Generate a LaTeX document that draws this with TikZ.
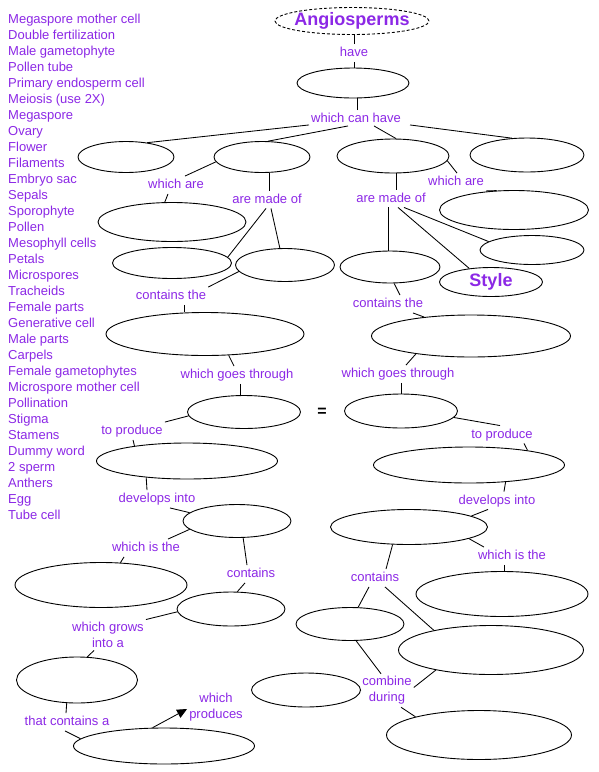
\documentclass[tikz,border=0pt]{standalone}
\usepackage{fontspec}
\setmainfont{Liberation Sans}
\usetikzlibrary{shapes.geometric,arrows.meta}
\definecolor{lbl}{RGB}{140,40,230}
\begin{document}
\begin{tikzpicture}[x=1pt,y=-1pt,
  ell/.style 2 args={draw, ellipse, line width=0.9pt, inner sep=0pt, minimum width=#1pt, minimum height=#2pt},
  lab/.style={text=lbl, font=\fontsize{13}{16}\selectfont, inner xsep=2pt, inner ysep=2.5pt, text height=10pt, text depth=2.5pt, yshift=-1pt},
  labm/.style={text=lbl, font=\fontsize{13}{16}\selectfont, inner xsep=2pt, inner ysep=2.5pt, align=center, yshift=-1pt},
  big/.style={text=lbl, font=\bfseries\fontsize{18}{20}\selectfont, inner sep=0pt},
  con/.style={line width=0.85pt},
  word/.style={text=lbl, font=\fontsize{13}{16}\selectfont, anchor=base west, inner sep=0pt}
]
\useasboundingbox[fill=white] (0,0) rectangle (598,772);

% word list
\foreach \w [count=\i from 0] in {Megaspore mother cell, Double fertilization, Male gametophyte, Pollen tube, Primary endosperm cell, Meiosis (use 2X), Megaspore, Ovary, Flower, Filaments, Embryo sac, Sepals, Sporophyte, Pollen, Mesophyll cells, Petals, Microspores, Tracheids, Female parts, Generative cell, Male parts, Carpels, Female gametophytes, Microspore mother cell, Pollination, Stigma, Stamens, Dummy word, 2 sperm, Anthers, Egg, Tube cell}
  \node[word] (w\i) at (8,23.5+16*\i) {\w};

% ellipses
\node[ell={154}{27}, dashed, dash pattern=on 3pt off 2pt, label={[big]center:Angiosperms}] (root) at (352,21) {};
\node[ell={112}{30}] (E1) at (353,83) {};
\node[ell={96}{31}] (E2a) at (126,157) {};
\node[ell={96}{31}] (E2b) at (262,157) {};
\node[ell={112}{34}] (E2c) at (393,156) {};
\node[ell={114}{34}] (E2d) at (527,155) {};
\node[ell={148}{39}] (E3a) at (172,222) {};
\node[ell={119}{31}] (E3b) at (172,263) {};
\node[ell={99}{33}] (E3c) at (285,265) {};
\node[ell={100}{32}] (E3d) at (390,267) {};
\node[ell={104}{29}] (E3e) at (532,250) {};
\node[ell={149}{39}] (E3f) at (514,210) {};
\node[ell={103}{29}, big] (Style) at (491,282) {Style};
\node[ell={198}{43}] (E4a) at (205,334) {};
\node[ell={199}{42}] (E4b) at (471,336) {};
\node[ell={113}{33}] (E5a) at (244,412) {};
\node[ell={113}{34}] (E5b) at (401,411) {};
\node[ell={181}{36}] (E6a) at (187,461) {};
\node[ell={191}{36}] (E6b) at (469,465) {};
\node[ell={108}{33}] (E7a) at (237,521) {};
\node[ell={157}{35}] (E7b) at (409,527) {};
\node[ell={172}{45}] (E8a) at (101,585) {};
\node[ell={172}{45}] (E8b) at (502,594) {};
\node[ell={108}{34}] (E9a) at (231,609) {};
\node[ell={121}{46}] (E10a) at (77,680) {};
\node[ell={181}{36}] (E11a) at (164,746) {};
\node[ell={108}{33}] (E12b) at (350,624) {};
\node[ell={185}{49}] (E13b) at (491,650) {};
\node[ell={109}{34}] (E14) at (306,690) {};
\node[ell={185}{49}] (E15b) at (479,735) {};

% labels
\node[lab] (have) at (354,52) {have};
\node[lab] (wch) at (356,118) {which can have};
\node[lab] (wareL) at (176,184) {which are};
\node[lab] (madeL) at (267,198.5) {are made of};
\node[lab] (madeR) at (391,197.5) {are made of};
\node[lab] (wareR) at (456,181) {which are};
\node[lab] (contL) at (171,295) {contains the};
\node[lab] (contR) at (388,303) {contains the};
\node[lab] (goesL) at (237,374) {which goes through};
\node[lab] (goesR) at (398,373) {which goes through};
\node[font=\bfseries\fontsize{16}{18}\selectfont, inner sep=1pt] (eq) at (322,412) {=};
\node[lab] (prodL) at (132,430) {to produce};
\node[lab] (prodR) at (502,433.5) {to produce};
\node[lab] (devL) at (157,498) {develops into};
\node[lab] (devR) at (497,499.5) {develops into};
\node[lab] (isL) at (146,547) {which is the};
\node[lab] (isR) at (512,555) {which is the};
\node[lab] (contsL) at (251,573) {contains};
\node[lab] (contsR) at (375,577) {contains};
\node[labm] (grows) at (108,634) {which grows\\into a};
\node[labm] (comb) at (387,689.5) {combine\\during};
\node[lab] (thatc) at (67,721) {that contains a};
\node[labm] (prodc) at (216,706) {which\\produces};

% connectors
\draw[con] (have.north) -- (have.north |- root.south);
\draw[con] (have.south) -- (have.south |- E1.north);
\draw[con] ([xshift=1pt]wch.north) -- ([xshift=1pt]wch.north |- E1.south);
\draw[con] ([yshift=3pt]wch.south west) -- (E2a.34);
\draw[con] ([xshift=-8pt,yshift=2pt]wch.south) -- (E2b.69);
\draw[con] ([xshift=18pt,yshift=2pt]wch.south) -- (E2c.80);
\draw[con] ([xshift=7pt,yshift=3pt]wch.south east) -- (E2d.132);

\draw[con] (E2b.186) -- ([xshift=9pt]wareL.north);
\draw[con] ([xshift=-8pt]wareL.south) -- (E3a.110);
\draw[con] ([xshift=2pt]madeL.north) -- ([xshift=2pt]madeL.north |- E2b.south);
\draw[con] ([xshift=-1pt]madeL.south) -- (E3b.6);
\draw[con] ([xshift=4pt]madeL.south) -- (E3c.107);
\draw[con] (E3c.188) -- (contL.north east);
\draw[con] ([xshift=13pt]contL.south) -- ([xshift=13pt]contL.south |- E4a.north);
\draw[con] (E4a.-42) -- ([xshift=-3pt]goesL.north);
\draw[con] ([xshift=3pt]goesL.south) -- ([xshift=3pt]goesL.south |- E5a.north);
\draw[con] (E5a.184) -- (prodL.north east);
\draw[con] ([xshift=1pt]prodL.south) -- (E6a.164);
\draw[con] (E6a.202) -- ([xshift=-10pt]devL.north);
\draw[con] ([xshift=13pt]devL.south) -- (E7a.170);
\draw[con] (E7a.190) -- ([xshift=22pt]isL.north);
\draw[con] ([xshift=-22pt]isL.south) -- (E8a.49);
\draw[con] (E7a.-70) -- ([xshift=-4pt]contsL.north);
\draw[con] ([xshift=-6pt]contsL.south) -- (E9a.70);
\draw[con] (E9a.183) -- (grows.north east);
\draw[con] ([xshift=-14pt]grows.south) -- (E10a.66);
\draw[con] (E10a.-114) -- ([xshift=-1pt]thatc.north);
\draw[con] ([xshift=-2pt]thatc.south) -- (E11a.175);
\draw[con, -{Triangle[length=10pt,width=9pt]}] (E11a.122) -- ([yshift=-2pt]prodc.west);

\draw[con] ([xshift=5pt]madeR.north) -- ([xshift=5pt]madeR.north |- E2c.south);
\draw[con] ([xshift=-3pt]madeR.south) -- ([xshift=-3pt]madeR.south |- E3d.north);
\draw[con] ([xshift=7pt]madeR.south) -- (Style.148);
\draw[con] ([xshift=13pt]madeR.south) -- (E3e.169);
\draw[con] (E2c.-5) -- ([xshift=1pt]wareR.north);
\draw[con] (wareR.south east) -- (E3f.132);
\draw[con] (E3d.-76) -- ([xshift=12pt]contR.north);
\draw[con] ([xshift=25pt]contR.south) -- (E4b.158);
\draw[con] (E4b.198) -- ([xshift=8pt]goesR.north);
\draw[con] ([xshift=3pt]goesR.south) -- ([xshift=3pt]goesR.south |- E5b.north);
\draw[con] (E5b.-7) -- ([xshift=-2pt]prodR.north);
\draw[con] ([xshift=22pt]prodR.south) -- (E6b.14);
\draw[con] (E6b.-25) -- ([xshift=7pt]devR.north);
\draw[con] ([xshift=-9pt]devR.south) -- (E7b.10);
\draw[con] (E7b.-11) -- ([xshift=-28pt]isR.north);
\draw[con] ([xshift=-8pt]isR.south) -- ([xshift=-8pt]isR.south |- E8b.north);
\draw[con] (E7b.-133) -- ([xshift=11pt]contsR.north);
\draw[con] ([xshift=-6pt]contsR.south) -- (E12b.64);
\draw[con] ([xshift=10pt]contsR.south) -- (E13b.161);
\draw[con] (E12b.-70) -- ([xshift=-6pt]comb.north);
\draw[con] (E13b.200) -- ([yshift=3pt]comb.east);
\draw[con] (comb.west) -- (E14.east);
\draw[con] ([xshift=14pt]comb.south) -- (E15b.164);
\end{tikzpicture}
\end{document}
